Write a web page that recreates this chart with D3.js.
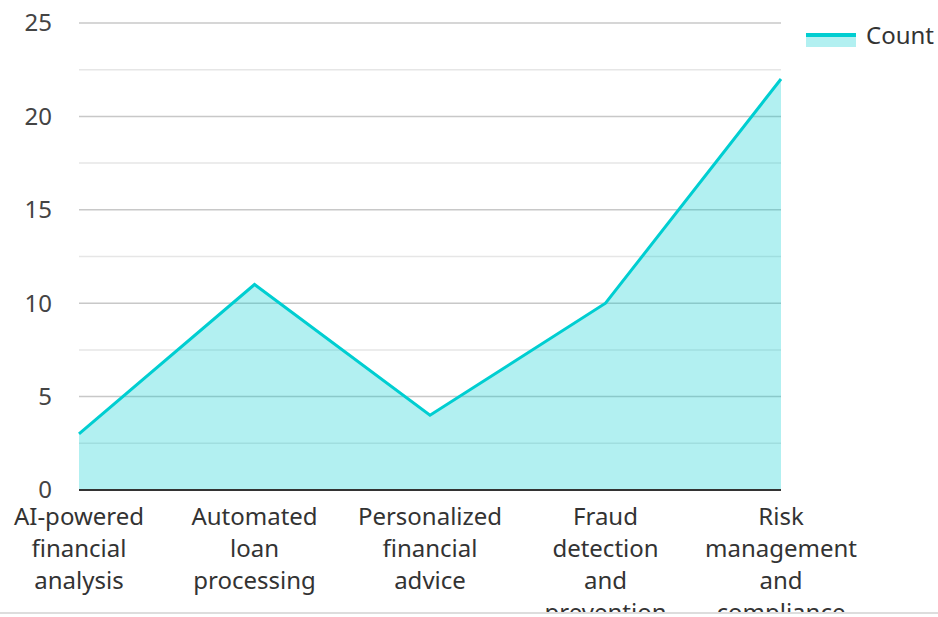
<!DOCTYPE html>
<html><head><meta charset="utf-8">
<script src="https://cdn.jsdelivr.net/npm/d3@7"></script>
<style>
html,body{margin:0;padding:0;background:#fff;}
#wrap{width:938px;height:612px;overflow:hidden;border-bottom:2px solid #ddd;}
text{font-family:"Noto Sans","Open Sans",sans-serif;}
</style></head><body>
<div id="wrap"><svg id="chart" width="938" height="612"></svg></div>
<script>
const categories = [["AI-powered","financial","analysis"],["Automated","loan","processing"],["Personalized","financial","advice"],["Fraud","detection","and","prevention"],["Risk","management","and","compliance"]];
const counts = [3, 11, 4, 10, 22];
const yTicks = [0, 5, 10, 15, 20, 25];
const minorTicks = [2.5, 7.5, 12.5, 17.5, 22.5];
const seriesName = "Count";

(function(){
const svg = d3.select("#chart");
const pLeft = 79, pRight = 781, pTop = 23, pBottom = 490;
const x = d3.scalePoint().domain(d3.range(categories.length)).range([pLeft, pRight]);
const y = d3.scaleLinear().domain([0, 25]).range([pBottom, pTop]);

// grid
svg.append("g").selectAll("line").data(minorTicks).join("line")
  .attr("x1", pLeft).attr("x2", pRight).attr("y1", d => y(d)).attr("y2", d => y(d))
  .attr("stroke", "#e6e6e6").attr("stroke-width", 1.5);
svg.append("g").selectAll("line").data(yTicks.filter(d => d > 0)).join("line")
  .attr("x1", pLeft).attr("x2", pRight).attr("y1", d => y(d)).attr("y2", d => y(d))
  .attr("stroke", "#c8c8c8").attr("stroke-width", 1.5);

// area + line
const data = counts.map((v, i) => ({i, v}));
svg.append("path").datum(data)
  .attr("d", d3.area().x(d => x(d.i)).y0(y(0)).y1(d => y(d.v)))
  .attr("fill", "rgba(0,206,209,0.3)");
svg.append("path").datum(data)
  .attr("d", d3.line().x(d => x(d.i)).y(d => y(d.v)))
  .attr("fill", "none").attr("stroke", "#00CED1").attr("stroke-width", 3);

// y axis labels
svg.append("g").selectAll("text").data(yTicks).join("text")
  .attr("x", 52).attr("y", d => y(d)).attr("dy", "0.35em")
  .attr("text-anchor", "end").attr("font-size", 24).attr("fill", "#444")
  .text(d => d);

// x axis baseline
svg.append("line").attr("x1", pLeft).attr("x2", pRight).attr("y1", pBottom).attr("y2", pBottom)
  .attr("stroke", "#333").attr("stroke-width", 2);

// x labels
const xl = svg.append("g").selectAll("text").data(categories).join("text")
  .attr("x", (d, i) => x(i)).attr("y", 525)
  .attr("text-anchor", "middle").attr("font-size", 24).attr("fill", "#333");
xl.selectAll("tspan").data(d => d).join("tspan")
  .attr("x", function(){ return this.parentNode.getAttribute("x"); })
  .attr("dy", (d, j) => j === 0 ? 0 : 32).text(d => d);

// legend
const lg = svg.append("g");
lg.append("rect").attr("x", 806).attr("y", 35).attr("width", 50).attr("height", 12).attr("fill", "rgba(0,206,209,0.3)");
lg.append("line").attr("x1", 806).attr("x2", 856).attr("y1", 35).attr("y2", 35).attr("stroke", "#00CED1").attr("stroke-width", 4);
lg.append("text").attr("x", 866).attr("y", 36).attr("dy", "0.35em").attr("font-size", 24).attr("fill", "#333").text(seriesName);
})();
</script></body></html>
